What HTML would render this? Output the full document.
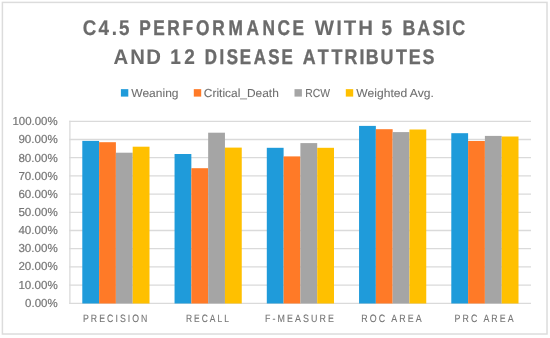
<!DOCTYPE html>
<html><head><meta charset="utf-8"><title>C4.5 Performance chart</title>
<style>
html,body{margin:0;padding:0;background:#fff;}
body{width:550px;height:338px;overflow:hidden;}
svg{display:block;}
text{font-family:"Liberation Sans",sans-serif;text-rendering:geometricPrecision;}
.tt{font-size:21.2px;font-weight:bold;fill:#6B6B6B;stroke:#6B6B6B;}
.lg{font-size:11.6px;fill:#6E6E6E;stroke:#6E6E6E;stroke-width:0.08px;}
.yl{font-size:11.6px;fill:#767676;stroke:#767676;stroke-width:0.2px;}
.xl{font-size:10.6px;fill:#767676;stroke:#767676;stroke-width:0.12px;letter-spacing:2.5px;}
</style></head>
<body>
<svg width="550" height="338" viewBox="0 0 550 338">
<rect x="0" y="0" width="550" height="338" fill="#fff"/>
<rect x="2.4" y="2.4" width="544.6" height="331.6" fill="#fff" stroke="#DCDCDC" stroke-width="1.5"/>
<line x1="69.2" y1="303.30" x2="531" y2="303.30" stroke="#DADADA" stroke-width="1.3"/>
<line x1="69.2" y1="285.10" x2="531" y2="285.10" stroke="#DADADA" stroke-width="1.3"/>
<line x1="69.2" y1="266.90" x2="531" y2="266.90" stroke="#DADADA" stroke-width="1.3"/>
<line x1="69.2" y1="248.70" x2="531" y2="248.70" stroke="#DADADA" stroke-width="1.3"/>
<line x1="69.2" y1="230.50" x2="531" y2="230.50" stroke="#DADADA" stroke-width="1.3"/>
<line x1="69.2" y1="212.30" x2="531" y2="212.30" stroke="#DADADA" stroke-width="1.3"/>
<line x1="69.2" y1="194.10" x2="531" y2="194.10" stroke="#DADADA" stroke-width="1.3"/>
<line x1="69.2" y1="175.90" x2="531" y2="175.90" stroke="#DADADA" stroke-width="1.3"/>
<line x1="69.2" y1="157.70" x2="531" y2="157.70" stroke="#DADADA" stroke-width="1.3"/>
<line x1="69.2" y1="139.50" x2="531" y2="139.50" stroke="#DADADA" stroke-width="1.3"/>
<line x1="69.2" y1="121.30" x2="531" y2="121.30" stroke="#DADADA" stroke-width="1.3"/>
<line x1="69.9" y1="120.65" x2="69.9" y2="303.95" stroke="#DADADA" stroke-width="1.3"/>
<rect x="82.30" y="140.90" width="16.80" height="162.60" fill="#1F9BDA"/>
<rect x="99.10" y="142.20" width="16.80" height="161.30" fill="#FF7A27"/>
<rect x="115.90" y="152.70" width="16.80" height="150.80" fill="#A5A5A5"/>
<rect x="132.70" y="146.70" width="16.80" height="156.80" fill="#FFC000"/>
<rect x="174.55" y="154.00" width="16.80" height="149.50" fill="#1F9BDA"/>
<rect x="191.35" y="168.20" width="16.80" height="135.30" fill="#FF7A27"/>
<rect x="208.15" y="132.70" width="16.80" height="170.80" fill="#A5A5A5"/>
<rect x="224.95" y="147.60" width="16.80" height="155.90" fill="#FFC000"/>
<rect x="266.80" y="147.80" width="16.80" height="155.70" fill="#1F9BDA"/>
<rect x="283.60" y="156.40" width="16.80" height="147.10" fill="#FF7A27"/>
<rect x="300.40" y="143.10" width="16.80" height="160.40" fill="#A5A5A5"/>
<rect x="317.20" y="147.80" width="16.80" height="155.70" fill="#FFC000"/>
<rect x="359.05" y="125.90" width="16.80" height="177.60" fill="#1F9BDA"/>
<rect x="375.85" y="129.20" width="16.80" height="174.30" fill="#FF7A27"/>
<rect x="392.65" y="132.10" width="16.80" height="171.40" fill="#A5A5A5"/>
<rect x="409.45" y="129.50" width="16.80" height="174.00" fill="#FFC000"/>
<rect x="451.30" y="133.20" width="16.80" height="170.30" fill="#1F9BDA"/>
<rect x="468.10" y="141.00" width="16.80" height="162.50" fill="#FF7A27"/>
<rect x="484.90" y="135.90" width="16.80" height="167.60" fill="#A5A5A5"/>
<rect x="501.70" y="136.50" width="16.80" height="167.00" fill="#FFC000"/>
<rect x="120.9" y="89.15" width="7.4" height="7.45" fill="#1F9BDA"/>
<rect x="193.8" y="89.15" width="7.4" height="7.45" fill="#FF7A27"/>
<rect x="294.5" y="89.15" width="7.4" height="7.45" fill="#A5A5A5"/>
<rect x="345.8" y="89.15" width="7.4" height="7.45" fill="#FFC000"/>
<text class="tt" transform="scale(0.8876,1)" x="93.27 110.96 125.86 133.99" y="35" style="stroke-width:0.23px">C4.5</text>
<text class="tt" transform="scale(0.8150,1)" x="170.83 188.08 205.09 223.92 240.52 260.56 280.48 302.55 322.04 340.54 358.86" y="35" style="stroke-width:0.41px">PERFORMANCE</text>
<text class="tt" transform="scale(0.9631,1)" x="326.72 349.11 356.99 371.89" y="35" style="stroke-width:0.07px">WITH</text>
<text class="tt" transform="scale(0.9006,1)" x="423.50" y="35" style="stroke-width:0.20px">5</text>
<text class="tt" transform="scale(0.8438,1)" x="476.92 494.52 512.43 528.12 535.89" y="35" style="stroke-width:0.33px">BASIC</text>
<text class="tt" transform="scale(0.9575,1)" x="118.60 136.10 152.84" y="64" style="stroke-width:0.08px">AND</text>
<text class="tt" transform="scale(0.8968,1)" x="189.85 205.33" y="64" style="stroke-width:0.21px">12</text>
<text class="tt" transform="scale(0.7965,1)" x="257.20 275.54 284.67 301.02 318.55 336.80 353.45" y="64" style="stroke-width:0.46px">DISEASE</text>
<text class="tt" transform="scale(0.8425,1)" x="359.23 377.21 393.52 409.01 426.76 434.03 451.63 470.03 485.24 501.56" y="64" style="stroke-width:0.34px">ATTRIBUTES</text>
<text x="131.35" y="97" class="lg" textLength="47.15" lengthAdjust="spacingAndGlyphs">Weaning</text>
<text x="203.87" y="97" class="lg" textLength="74.94" lengthAdjust="spacingAndGlyphs">Critical_Death</text>
<text x="305.26" y="97" class="lg" textLength="24.78" lengthAdjust="spacingAndGlyphs">RCW</text>
<text x="356.38" y="97" class="lg" textLength="77.42" lengthAdjust="spacingAndGlyphs">Weighted Avg.</text>
<text x="82.93" y="322" class="xl" textLength="66.57" lengthAdjust="spacingAndGlyphs">PRECISION</text>
<text x="186.01" y="322" class="xl" textLength="44.92" lengthAdjust="spacingAndGlyphs">RECALL</text>
<text x="264.98" y="322" class="xl" textLength="71.11" lengthAdjust="spacingAndGlyphs">F-MEASURE</text>
<text x="361.21" y="322" class="xl" textLength="62.59" lengthAdjust="spacingAndGlyphs">ROC AREA</text>
<text x="454.57" y="322" class="xl" textLength="61.09" lengthAdjust="spacingAndGlyphs">PRC AREA</text>
<text x="25.10" y="306.8" class="yl" textLength="32.51" lengthAdjust="spacingAndGlyphs">0.00%</text>
<text x="18.40" y="288.64" class="yl" textLength="39.30" lengthAdjust="spacingAndGlyphs">10.00%</text>
<text x="18.40" y="270.48" class="yl" textLength="39.30" lengthAdjust="spacingAndGlyphs">20.00%</text>
<text x="18.40" y="252.32" class="yl" textLength="39.30" lengthAdjust="spacingAndGlyphs">30.00%</text>
<text x="18.40" y="234.16" class="yl" textLength="39.30" lengthAdjust="spacingAndGlyphs">40.00%</text>
<text x="18.40" y="216.0" class="yl" textLength="39.30" lengthAdjust="spacingAndGlyphs">50.00%</text>
<text x="18.40" y="197.84" class="yl" textLength="39.30" lengthAdjust="spacingAndGlyphs">60.00%</text>
<text x="18.40" y="179.68" class="yl" textLength="39.30" lengthAdjust="spacingAndGlyphs">70.00%</text>
<text x="18.40" y="161.52" class="yl" textLength="39.30" lengthAdjust="spacingAndGlyphs">80.00%</text>
<text x="18.40" y="143.36" class="yl" textLength="39.30" lengthAdjust="spacingAndGlyphs">90.00%</text>
<text x="12.45" y="125.2" class="yl" textLength="45.18" lengthAdjust="spacingAndGlyphs">100.00%</text>
</svg>
</body></html>
